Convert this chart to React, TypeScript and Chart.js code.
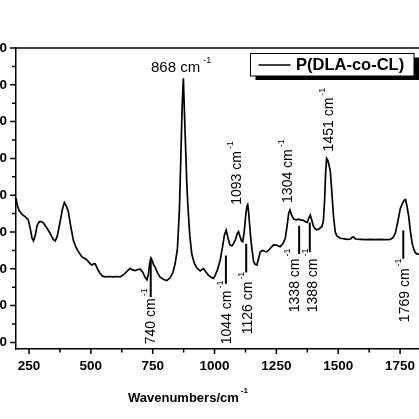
import React, { useEffect, useRef } from "react";
import { Chart, registerables } from "chart.js";

Chart.register(...registerables);

// ---- data ----
const wavenumbers = [
  197, 203, 210, 222, 234, 247, 255, 262, 268, 275, 283, 292, 300, 308, 320, 335, 348, 356, 364, 375,
  385, 393, 400, 409, 418, 429, 440, 452, 463, 475, 484, 494, 504, 512, 518, 528, 537, 547, 558, 575,
  590, 605, 618, 630, 640, 650, 659, 668, 679, 690, 700, 710, 720, 727, 733, 738, 743, 748, 753, 760,
  770, 780, 795, 807, 820, 832, 841, 850, 858, 864, 869, 874, 878, 884, 888, 892, 900, 908, 918, 929,
  942, 955, 962, 975, 986, 996, 1003, 1012, 1023, 1032, 1040, 1047, 1054, 1062, 1070, 1077, 1085, 1092, 1097, 1103,
  1109, 1114, 1120, 1126, 1131, 1134, 1138, 1143, 1147, 1152, 1158, 1164, 1171, 1178, 1185, 1195, 1205, 1212, 1225, 1238,
  1252, 1265, 1276, 1286, 1294, 1300, 1305, 1312, 1320, 1330, 1340, 1348, 1358, 1367, 1375, 1381, 1387, 1393, 1400, 1408,
  1414, 1422, 1434, 1440, 1445, 1449, 1453, 1458, 1464, 1468, 1474, 1481, 1488, 1494, 1508, 1520, 1536, 1550, 1557, 1562,
  1570, 1589, 1610, 1630, 1650, 1670, 1690, 1711, 1722, 1731, 1740, 1751, 1760, 1766, 1772, 1778, 1785, 1792, 1799, 1806,
  1812, 1820, 1830, 1850, 1871,
];
const intensity = [
  392, 372, 358, 348, 342, 333, 310, 284, 276, 290, 318, 328, 328, 325, 313, 297, 280, 276, 288, 325,
  362, 380, 372, 355, 318, 278, 258, 244, 233, 228, 224, 216, 210, 214, 213, 198, 188, 180, 178, 179,
  178, 179, 178, 183, 189, 196, 201, 197, 195, 198, 199, 190, 176, 170, 186, 215, 229, 222, 212, 204,
  188, 177, 171, 168, 175, 190, 215, 255, 360, 510, 640, 718, 630, 510, 430, 374, 290, 240, 215, 202,
  194, 201, 194, 183, 177, 174, 183, 198, 224, 258, 292, 305, 285, 265, 262, 269, 280, 296, 301, 288,
  276, 274, 300, 345, 370, 374, 352, 310, 278, 250, 219, 212, 210, 228, 246, 250, 247, 246, 255, 265,
  264, 260, 268, 283, 320, 352, 360, 345, 335, 333, 335, 332, 332, 328, 326, 338, 346, 332, 315, 308,
  306, 308, 315, 330, 387, 460, 500, 495, 478, 465, 410, 342, 300, 290, 283, 282, 280, 281, 286, 286,
  281, 280, 279, 280, 279, 280, 279, 280, 285, 297, 325, 364, 378, 386, 388, 370, 342, 300, 269, 252,
  243, 240, 240, 239, 238,
];

const seriesLabel = "P(DLA-co-CL)";
const xAxisTitle = "Wavenumbers/cm";
const unitText = "cm";
const superText = "-1";
const xTickValues = [250, 500, 750, 1000, 1250, 1500, 1750];
const yTickValues = [0, 100, 200, 300, 400, 500, 600, 700, 800];

// horizontal peak label
const topLabelText = "868";
const topLabelX = 743;
const topLabelY = 734;

// vertical peak labels (rotated), with optional marker lines
const vLabelTexts = ["740", "1044", "1126", "1338", "1388", "1769", "1093", "1304", "1451"];
const vLabelX = [739, 1048, 1133, 1321, 1392, 1766, 1087, 1293, 1459];
const vLabelStartY = [-5, -5, 22, 82, 82, 55, 374, 379, 519];
const markerX = [742, 1046, 1128, 1342, 1385, 1763];
const markerTop = [227, 236, 268, 317, 326, 304];
const markerBottom = [123, 159, 190, 240, 245, 227];

const FONT = '"Liberation Sans", Arial, Helvetica, sans-serif';

const decorPlugin = {
  id: "decor",
  afterDraw(chart: any) {
    const ctx: CanvasRenderingContext2D = chart.ctx;
    const xs = chart.scales.x;
    const ys = chart.scales.y;
    const { left, right, top, bottom } = chart.chartArea;
    ctx.save();
    ctx.strokeStyle = "#000";
    ctx.fillStyle = "#000";
    ctx.lineWidth = 1.5;
    // top frame line
    ctx.beginPath();
    ctx.moveTo(left, top);
    ctx.lineTo(right, top);
    ctx.stroke();

    // x ticks (outside)
    ctx.beginPath();
    const xStep = xTickValues[1] - xTickValues[0];
    for (const v of xTickValues) {
      const px = xs.getPixelForValue(v);
      ctx.moveTo(px, bottom);
      ctx.lineTo(px, bottom + 5);
      const pm = xs.getPixelForValue(v + xStep / 2);
      if (pm < right) {
        ctx.moveTo(pm, bottom);
        ctx.lineTo(pm, bottom + 3.5);
      }
    }
    const pm0 = xs.getPixelForValue(xTickValues[0] - xStep / 2);
    if (pm0 > left) {
      ctx.moveTo(pm0, bottom);
      ctx.lineTo(pm0, bottom + 3.5);
    }
    // y ticks (outside)
    const yStep = yTickValues[1] - yTickValues[0];
    for (const v of yTickValues) {
      const py = ys.getPixelForValue(v);
      ctx.moveTo(left, py);
      ctx.lineTo(left - 6, py);
      if (v + yStep / 2 < ys.max) {
        const pmy = ys.getPixelForValue(v + yStep / 2);
        ctx.moveTo(left, pmy);
        ctx.lineTo(left - 4, pmy);
      }
    }
    ctx.stroke();

    // marker lines
    ctx.lineWidth = 2;
    ctx.beginPath();
    for (let i = 0; i < markerX.length; i++) {
      const px = xs.getPixelForValue(markerX[i]);
      ctx.moveTo(px, ys.getPixelForValue(markerTop[i]));
      ctx.lineTo(px, ys.getPixelForValue(markerBottom[i]));
    }
    ctx.stroke();

    // top horizontal label
    const mainSize = 15;
    const supSize = 9;
    ctx.textBaseline = "alphabetic";
    ctx.textAlign = "left";
    {
      const tx = xs.getPixelForValue(topLabelX);
      const ty = ys.getPixelForValue(topLabelY);
      ctx.font = `${mainSize}px ${FONT}`;
      const s = `${topLabelText} ${unitText}`;
      ctx.fillText(s, tx, ty);
      const w = ctx.measureText(s).width;
      ctx.font = `${supSize}px ${FONT}`;
      ctx.fillText(superText, tx + w + 3, ty - 9.5);
    }

    // rotated labels
    const vSize = 14;
    for (let i = 0; i < vLabelTexts.length; i++) {
      const cx = xs.getPixelForValue(vLabelX[i]);
      const sy = ys.getPixelForValue(vLabelStartY[i]);
      ctx.save();
      ctx.translate(cx + vSize * 0.36, sy);
      ctx.rotate(-Math.PI / 2);
      ctx.font = `${vSize}px ${FONT}`;
      const s = `${vLabelTexts[i]} ${unitText}`;
      ctx.fillText(s, 0, 0);
      const w = ctx.measureText(s).width;
      ctx.font = `${supSize}px ${FONT}`;
      ctx.fillText(superText, w + 2, -8.5);
      ctx.restore();
    }

    // x axis title with superscript
    {
      ctx.font = `bold 13px ${FONT}`;
      const w = ctx.measureText(xAxisTitle).width;
      const x0 = 128;
      const by = 401.5;
      ctx.fillText(xAxisTitle, x0, by);
      ctx.font = `bold 8px ${FONT}`;
      ctx.fillText(superText, x0 + w + 2, by - 8.5);
    }

    // legend box with shadow
    {
      const bx = 250.5, by = 53.5, bw = 163.5, bh = 22.5;
      ctx.fillStyle = "#000";
      ctx.fillRect(bx + 5, by + 4, bw, bh);
      ctx.fillStyle = "#fff";
      ctx.fillRect(bx, by, bw, bh);
      ctx.lineWidth = 1;
      ctx.strokeStyle = "#000";
      ctx.strokeRect(bx, by, bw, bh);
      ctx.lineWidth = 1.5;
      ctx.beginPath();
      ctx.moveTo(bx + 8, by + 11.5);
      ctx.lineTo(bx + 40, by + 11.5);
      ctx.stroke();
      ctx.fillStyle = "#000";
      ctx.font = `bold 16.5px ${FONT}`;
      ctx.textBaseline = "middle";
      ctx.fillText(seriesLabel, bx + 45.5, by + 12);
    }
    ctx.restore();
  },
};

export default function App() {
  const ref = useRef<HTMLCanvasElement | null>(null);
  useEffect(() => {
    if (!ref.current) return;
    const chart = new Chart(ref.current, {
      type: "line",
      data: {
        datasets: [
          {
            label: seriesLabel,
            data: wavenumbers.map((x, i) => ({ x, y: intensity[i] })),
            borderColor: "#000",
            borderWidth: 1.7,
            pointRadius: 0,
            tension: 0,
            fill: false,
          },
        ],
      },
      options: {
        responsive: false,
        animation: false,
        events: [],
        layout: { padding: { top: 48, right: 10, bottom: 0, left: 0 } },
        plugins: { legend: { display: false }, tooltip: { enabled: false }, title: { display: false } },
        scales: {
          x: {
            type: "linear",
            min: 197.4,
            max: 1871,
            grid: { display: false, drawTicks: false },
            border: { display: true, color: "#000", width: 1.5 },
            afterFit: (s: any) => {
              s.height = 70;
            },
            afterBuildTicks: (s: any) => {
              s.ticks = xTickValues.map((value) => ({ value }));
            },
            ticks: {
              padding: 9,
              color: "#000",
              font: { family: FONT, size: 13.5, weight: "bold" },
              maxRotation: 0,
              autoSkip: false,
              callback: (v: any) => String(v),
            },
          },
          y: {
            type: "linear",
            min: -18,
            max: 800,
            grid: { display: false, drawTicks: false },
            border: { display: true, color: "#000", width: 1.5 },
            afterFit: (s: any) => {
              s.width = 16;
            },
            afterBuildTicks: (s: any) => {
              s.ticks = yTickValues.map((value) => ({ value }));
            },
            ticks: {
              padding: 9,
              color: "#000",
              font: { family: FONT, size: 13.5, weight: "bold" },
              autoSkip: false,
              callback: (v: any) => String(v),
            },
          },
        },
      },
      plugins: [decorPlugin],
    } as any);
    return () => chart.destroy();
  }, []);
  return (
    <div
      style={{
        position: "fixed",
        left: 0,
        top: 0,
        width: 419,
        height: 419,
        overflow: "hidden",
        background: "#fff",
      }}
    >
      <canvas ref={ref} width={440} height={419} style={{ display: "block", width: 440, height: 419 }} />
    </div>
  );
}
